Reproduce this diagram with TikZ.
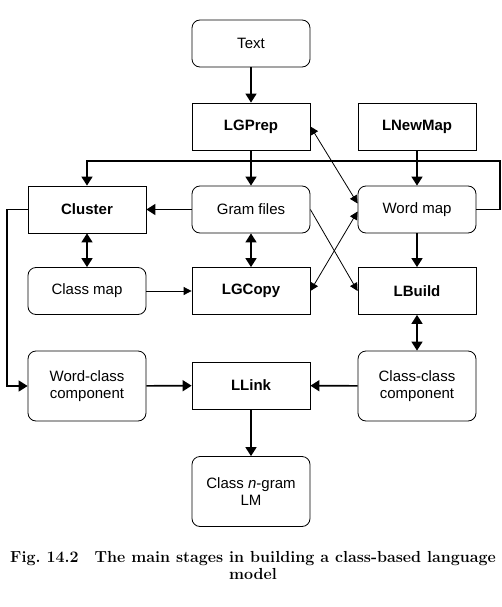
\documentclass[tikz,border=0pt]{standalone}
\usepackage{fontspec}
\newfontfamily\arialfont{Liberation Sans}
\usetikzlibrary{arrows.meta}
\tikzset{
	box/.style={draw, line width=0.8pt, minimum width=118pt, minimum height=47pt, inner sep=2pt, align=center, font=\arialfont\fontsize{15}{17}\selectfont},
	rbox/.style={box, rounded corners=8pt},
	tallbox/.style={rbox, minimum height=70pt},
	thk/.style={line width=1.6pt},
	thn/.style={line width=0.8pt, >={Triangle[length=8pt,width=8pt]}}
}

\begin{document}
\begin{tikzpicture}[x=1pt, y=-1pt, >={Triangle[length=9pt,width=11pt]}]
	\useasboundingbox (0,0) rectangle (502,607);
	%Prima colonna
	\node [box] (cluster) at (87,209.5) {\bfseries Cluster};
	\node [rbox] (classmap) at (87,291) {Class map};
	\node [tallbox] (wcc) at (87,386) {Word-class\\component};
	%Colonna centrale
	\node [rbox] (text) at (251,43.5) {Text};
	\node [box] (lgprep) at (251,126.5) {\bfseries LGPrep};
	\node [rbox] (gram) at (251,209.5) {Gram files};
	\node [box] (lgcopy) at (251,291) {\bfseries LGCopy};
	\node [box] (llink) at (251,385.5) {\bfseries LLink};
	\node [tallbox] (lm) at (251,491.5) {Class \textit{n}-gram\\LM};
	%Terza colonna
	\node [box] (lnewmap) at (417,126.5) {\bfseries LNewMap};
	\node [rbox] (wmap) at (417,209.5) {Word map};
	\node [box] (lbuild) at (417,291) {\bfseries LBuild};
	\node [tallbox] (ccc) at (417,386) {Class-class\\component};
	%Frecce verticali e orizzontali
	\draw [thk,->] (text) -- (lgprep);
	\draw [thk,->] (lgprep) -- (gram);
	\draw [thk,->] (lnewmap) -- (wmap);
	\draw [thk,->] (gram) -- (cluster);
	\draw [thk,<->] (cluster) -- (classmap);
	\draw [thk,<->] (gram) -- (lgcopy);
	\draw [thn,->] (classmap) -- (lgcopy);
	\draw [thk,->] (wmap) -- (lbuild);
	\draw [thk,<->] (lbuild) -- (ccc);
	\draw [thk,->] (wcc) -- (llink);
	\draw [thk,->] (ccc) -- (llink);
	\draw [thk,->] (llink) -- (lm);
	%Anello di ritorno
	\coordinate (loop) at (500,161);
	\draw [thk,->] (wmap.east) -| (loop) -| (cluster.north);
	\coordinate (side) at (7,209.5);
	\draw [thk,->] (cluster.west) -- (side) |- (wcc.west);
	%Diagonali
	\draw [thn,<->] (lgprep.east) -- ([yshift=6pt]wmap.west);
	\draw [thn,<->] ([yshift=-2pt]wmap.west) -- (lgcopy.east);
	\draw [thn,->] (gram.east) -- (lbuild.west);
	%Didascalia
	\node [inner sep=0pt, align=center, font=\bfseries\fontsize{16}{17}\selectfont] (caption) at (253,565) {Fig.\ 14.2\quad The main stages in building a class-based language\\model};
\end{tikzpicture}
\end{document}
